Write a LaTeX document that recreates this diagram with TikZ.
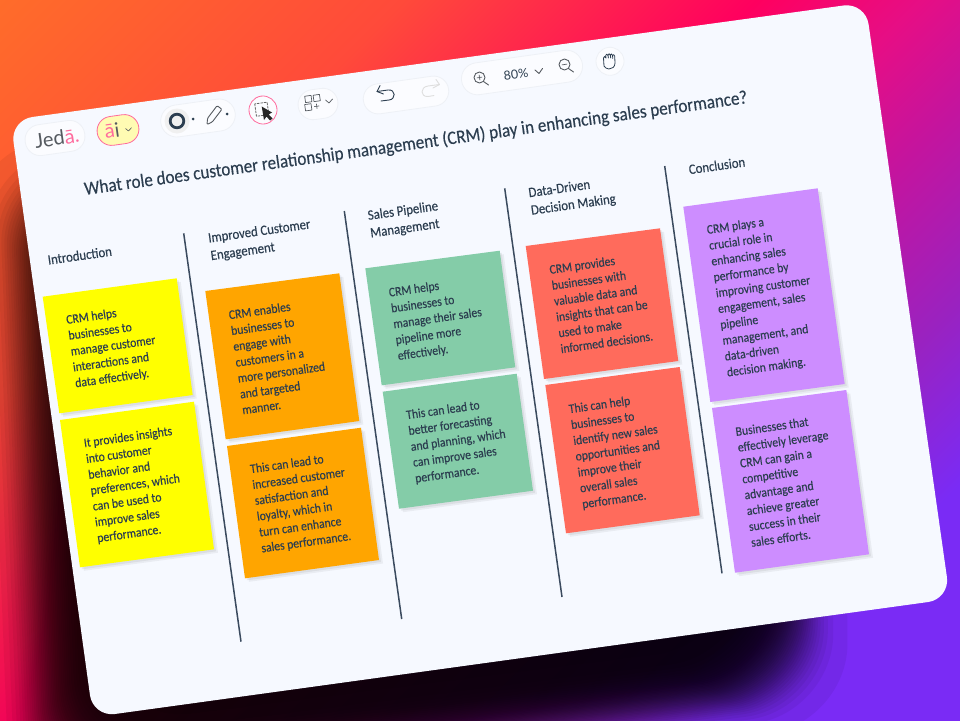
\documentclass[tikz,border=0pt]{standalone}
\usepackage{fontspec}
\setmainfont{Carlito}[FakeStretch=.9,FakeBold=.25]
\newfontfamily\uifont{Lato}
\usetikzlibrary{calc}
\definecolor{cA}{HTML}{FF6C2A}
\definecolor{cB}{HTML}{FF4A3A}
\definecolor{cC}{HTML}{FF005F}
\definecolor{cD}{HTML}{E60E85}
\definecolor{cE}{HTML}{C4149E}
\definecolor{cF}{HTML}{9A22C0}
\definecolor{cG}{HTML}{7A2BF5}
\definecolor{cardcol}{HTML}{F6F9FF}
\definecolor{inkcol}{HTML}{2C3E50}
\definecolor{rulecol}{HTML}{3A4A5E}
\definecolor{pinkcol}{HTML}{FF6B9D}
\definecolor{logogrey}{HTML}{555A60}
\definecolor{pillcol}{HTML}{FBFCFF}
\definecolor{pillline}{HTML}{EEF1F6}
\definecolor{noteyellow}{HTML}{FFFF00}
\definecolor{noteorange}{HTML}{FFA500}
\definecolor{notegreen}{HTML}{84CCA8}
\definecolor{notered}{HTML}{FF6B5C}
\definecolor{notepurple}{HTML}{CD8DFF}
\pgfdeclarehorizontalshading{bgshade}{1400pt}{color(0pt)=(cA); color(20pt)=(cA); color(305pt)=(cB); color(555pt)=(cC); color(673pt)=(cD); color(773pt)=(cE); color(911pt)=(cF); color(1042pt)=(cG); color(1228pt)=(cG)}
\newcommand\linesbox[2]{\vtop{\hsize=300pt\parindent=0pt\baselineskip=#1\rightskip=0pt plus 1fil\leavevmode #2\par}}
\newcommand\sticky[5]{%
  \fill[black,opacity=.05] ($#2+(4,3.5)$) -- ($#3+(4,3.5)$) -- ($#4+(4,3.5)$) -- ($#5+(4,3.5)$) -- cycle;
  \fill[black,opacity=.06] ($#2+(2,2)$) -- ($#3+(2,2)$) -- ($#4+(2,2)$) -- ($#5+(2,2)$) -- cycle;
  \fill[#1] #2 -- #3 -- #4 -- #5 -- cycle;}
\tikzset{
  notetext/.style={anchor=base west,inner sep=0pt,rotate=8,text=inkcol,font=\fontsize{13}{16}\selectfont},
  headtext/.style={anchor=base west,inner sep=0pt,rotate=8,text=inkcol,font=\fontsize{14.2}{17}\selectfont},
  divider/.style={draw=rulecol,line width=1.5pt},
  pill/.style={draw=pillline,line width=.8pt,fill=pillcol,rotate=8,inner sep=0pt},
  icon/.style={draw=inkcol,line width=.9pt,line cap=round,line join=round},
}
\begin{document}
\begin{tikzpicture}[x=1pt,y=-1pt]
\useasboundingbox (0,0) rectangle (960,720);
\begin{scope}
\clip (0,0) rectangle (960,720);
\node[rotate=-45,inner sep=0pt] (bg) at (480,360) {\pgfuseshading{bgshade}};
% soft card shadow
\coordinate (sC) at (430,430);
\coordinate (sA) at (5,170);
\coordinate (sB) at (810,90);
\coordinate (sD) at (815,700);
\coordinate (sE) at (30,800);
\foreach \shk in {.794,.831,.845,.855,.864,.871,.877,.883,.889,.894,.899,.904,.908,.913,.917,.921,.926,.930,.934,.938,.942,.946,.950,.954,.959,.963,.967,.972,.976,.981,.986,.991,.997,1.003,1.009,1.016,1.025,1.035,1.049,1.086}{
  \fill[black,opacity=.0497,rounded corners=80pt] ($(sC)!\shk!(sA)$) -- ($(sC)!\shk!(sB)$) -- ($(sC)!\shk!(sD)$) -- ($(sC)!\shk!(sE)$) -- cycle;
}
% card
\fill[cardcol,rounded corners=22pt] (10.5,120) -- (865.5,2.5) -- (950,599) -- (93,717) -- cycle;
\end{scope}

% title
\node[anchor=base west,inner sep=0pt,rotate=7.9,text=inkcol,font=\fontsize{19}{22}\selectfont] (title) at (85,195) {What role does customer relationship management (CRM) play in enhancing sales performance?};

% dividers
\coordinate (d1a) at (183.7,233.3); \coordinate (d1b) at (241,641.7);
\coordinate (d2a) at (344.3,211);   \coordinate (d2b) at (401.7,619);
\coordinate (d3a) at (504.7,188.3); \coordinate (d3b) at (562,597);
\coordinate (d4a) at (664.7,166);   \coordinate (d4b) at (722,573.3);
\draw[divider] (d1a) -- (d1b);
\draw[divider] (d2a) -- (d2b);
\draw[divider] (d3a) -- (d3b);
\draw[divider] (d4a) -- (d4b);

% headers
\node[headtext] (h1) at (48.3,264.7) {Introduction};
\node[headtext] (h2) at (208.7,242.7) {\linesbox{17.7pt}{Improved Customer\\Engagement}};
\node[headtext] (h3) at (368.3,220) {\linesbox{17.7pt}{Sales Pipeline\\Management}};
\node[headtext] (h4) at (529,197.3) {\linesbox{17.7pt}{Data-Driven\\Decision Making}};
\node[headtext] (h5) at (689.3,174.3) {Conclusion};

% notes
\sticky{noteyellow}{(42.7,296.7)}{(176.7,278.3)}{(192.7,395)}{(59.3,413.3)}
\sticky{noteyellow}{(60,420)}{(194,401.7)}{(214,549.3)}{(80,567.3)}
\sticky{noteorange}{(205.3,291)}{(339.3,273.3)}{(359.3,421)}{(225.7,439.3)}
\sticky{noteorange}{(227,446)}{(361,427.7)}{(379,560)}{(245,578.3)}
\sticky{notegreen}{(365.3,268.3)}{(499.7,250.7)}{(515.3,367.3)}{(381.7,385.3)}
\sticky{notegreen}{(382.7,391.7)}{(516.7,373.7)}{(533,490.7)}{(399,508.7)}
\sticky{notered}{(525.7,246)}{(660,228.3)}{(678.3,361)}{(544,379)}
\sticky{notered}{(545.3,385)}{(679.7,367)}{(699.7,515.3)}{(566,533.3)}
\sticky{notepurple}{(683.3,206.7)}{(817.7,188.3)}{(844.7,384)}{(710.3,402)}
\sticky{notepurple}{(712,408)}{(846.3,390)}{(869,554.3)}{(735,572.7)}

\node[notetext] (t1) at (66.7,324) {\linesbox{16pt}{CRM helps\\businesses to\\manage customer\\interactions and\\data effectively.}};
\node[notetext] (t2) at (84.3,447.3) {\linesbox{16pt}{It provides insights\\into customer\\behavior and\\preferences, which\\can be used to\\improve sales\\performance.}};
\node[notetext] (t3) at (229.3,319.3) {\linesbox{16pt}{CRM enables\\businesses to\\engage with\\customers in a\\more personalized\\and targeted\\manner.}};
\node[notetext] (t4) at (250.7,473.3) {\linesbox{16pt}{This can lead to\\increased customer\\satisfaction and\\loyalty, which in\\turn can enhance\\sales performance.}};
\node[notetext] (t5) at (389.3,296.7) {\linesbox{16pt}{CRM helps\\businesses to\\manage their sales\\pipeline more\\effectively.}};
\node[notetext] (t6) at (406.7,419.3) {\linesbox{16pt}{This can lead to\\better forecasting\\and planning, which\\can improve sales\\performance.}};
\node[notetext] (t7) at (550,274) {\linesbox{16pt}{CRM provides\\businesses with\\valuable data and\\insights that can be\\used to make\\informed decisions.}};
\node[notetext] (t8) at (569.3,413.3) {\linesbox{16pt}{This can help\\businesses to\\identify new sales\\opportunities and\\improve their\\overall sales\\performance.}};
\node[notetext] (t9) at (707.3,234) {\linesbox{16pt}{CRM plays a\\crucial role in\\enhancing sales\\performance by\\improving customer\\engagement, sales\\pipeline\\management, and\\data-driven\\decision making.}};
\node[notetext] (t10) at (736,436) {\linesbox{16pt}{Businesses that\\effectively leverage\\CRM can gain a\\competitive\\advantage and\\achieve greater\\success in their\\sales efforts.}};

% toolbar pills
\node[pill,rounded corners=15pt,minimum width=60pt,minimum height=31pt] (logopill) at (55,138) {};
\node[anchor=center,rotate=8,inner sep=0pt,font=\uifont\fontsize{20}{20}\selectfont] (logo) at (57,138) {\textcolor{logogrey}{Jed}\textcolor{pinkcol}{ā.}};
\node[pill,draw=pinkcol,fill=yellow!30!white,rounded corners=14.5pt,minimum width=42pt,minimum height=29pt] (aipill) at (118,130) {};
\node[rotate=8,inner sep=0pt,font=\uifont\fontsize{20}{20}\selectfont] (ailabel) at (112,130.5) {\textcolor{pinkcol}{ā}\textcolor{logogrey}{i}};
\node[pill,rounded corners=16pt,minimum width=75pt,minimum height=32pt] (toolpill) at (198,118) {};
\node[pill,draw=pinkcol,circle,minimum size=28pt] (selbtn) at (263,110) {};
\node[pill,rounded corners=15pt,minimum width=40pt,minimum height=30pt] (gridpill) at (318,104) {};
\node[pill,rounded corners=15pt,minimum width=86pt,minimum height=30pt] (undopill) at (406,95) {};
\node[pill,rounded corners=16pt,minimum width=122pt,minimum height=32pt] (zoompill) at (522,72.5) {};
\node[pill,circle,minimum size=28pt] (handbtn) at (610,61.3) {};

% chevron on ai
\draw[icon,draw=logogrey,line width=.6pt] (125.5,128.5) -- (128.5,131) -- (131.5,127.7);

% ring tool
\fill[black!6] (177,121) circle (12.5);
\draw[inkcol,line width=2.8pt] (177,121) circle (6.8);
\fill[inkcol] (193,119) circle (1.5);
\fill[inkcol] (227,114) circle (1.5);
% pencil
\draw[icon,draw=logogrey,rounded corners=1pt] (207,124.5) -- (207.6,118.2) -- (217.1,105.7) -- (221.9,109.3) -- (212.4,121.8) -- cycle;

% select icon
\draw[icon,draw=black!60,dash pattern=on 2pt off 1.5pt,line width=.8pt,rotate around={8:(261.7,109)}] (255.5,103) rectangle (268,115.5);
\fill[black!85] (261.7,106.5) -- (272,112.5) -- (268.5,114.5) -- (272.5,118.5) -- (270,120.5) -- (266.5,116.5) -- (264,120) -- cycle;

% grid icon
\begin{scope}[icon,draw=logogrey,line width=.7pt]
\foreach \gx/\gy in {308.3/99,316.7/98,308.3/107.3}{
  \draw[rotate around={8:(\gx,\gy)}] (\gx-3.2,\gy-3.2) rectangle (\gx+3.2,\gy+3.2);
}
\draw (314.5,106.5) -- (319,106);
\draw (316.5,104) -- (317,108.5);
\draw (325.5,100) -- (329,103) -- (332.5,99);
\end{scope}

% undo / redo
\draw[icon,draw=inkcol] (380,85.5) -- (377,91.5) -- (383.5,94);
\draw[icon,draw=inkcol] (377,91.5) -- (388,90) .. controls (396,89) and (396,99.5) .. (389,100) -- (381,101);
\draw[icon,draw=black!13] (436,79.5) -- (439.5,84.5) -- (433,88);
\draw[icon,draw=black!13] (439.5,84.5) -- (428,86) .. controls (420,87) and (420,97) .. (428,96.5) -- (434,95.5);

% zoom controls
\draw[icon,draw=logogrey] (479.5,77.5) circle (5.5);
\draw[icon,draw=logogrey] (483.5,81.5) -- (488.5,85);
\draw[icon,draw=logogrey,line width=.7pt] (477,77.9) -- (482,77.1);
\draw[icon,draw=logogrey,line width=.7pt] (479.1,75) -- (479.9,80);
\node[rotate=8,inner sep=0pt,text=inkcol,font=\uifont\fontsize{12.5}{13}\selectfont] (zoomval) at (516,74) {80\%};
\draw[icon,draw=logogrey] (535,70) -- (539,73.5) -- (542.5,68.5);
\draw[icon,draw=logogrey] (564.5,64.5) circle (5.5);
\draw[icon,draw=logogrey] (568.5,68.5) -- (573.5,72);
\draw[icon,draw=logogrey,line width=.7pt] (562,64.9) -- (567,64.1);

% hand
\draw[icon,draw=inkcol,line width=.8pt] (604,66) -- (603.5,58) .. controls (603.5,56) and (605.5,56) .. (606,58)
  (606,58) -- (605.7,55.5) .. controls (605.7,53.7) and (607.8,53.7) .. (608,55.5) -- (608.4,58)
  (608,55.5) .. controls (608,53.2) and (610.2,53.2) .. (610.3,55.3) -- (610.7,58)
  (610.3,55.3) .. controls (610.5,53.4) and (612.5,53.7) .. (612.5,55.5) -- (612.8,58.5)
  (612.5,55.5) .. controls (612.7,54) and (614.7,54.5) .. (614.7,56.2) -- (615,63) .. controls (615,67) and (612,69) .. (609,69) .. controls (606.5,69) and (605,67.5) .. (604,66);
\end{tikzpicture}
\end{document}
